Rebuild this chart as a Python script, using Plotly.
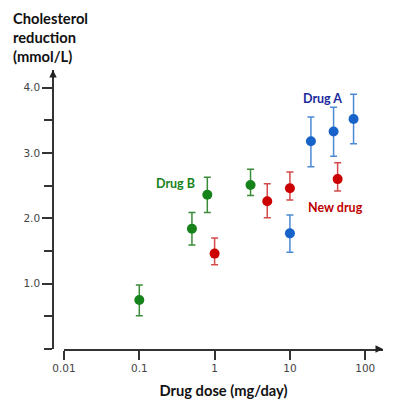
import plotly.graph_objects as go

# Drug B (green)
b_dose = [0.1, 0.5, 0.8, 3]
b_mean = [0.75, 1.84, 2.36, 2.51]
b_up = [0.23, 0.25, 0.27, 0.24]
b_down = [0.24, 0.25, 0.27, 0.16]

# New drug (red)
n_dose = [1, 5, 10, 43]
n_mean = [1.46, 2.26, 2.46, 2.60]
n_up = [0.24, 0.27, 0.25, 0.25]
n_down = [0.17, 0.25, 0.18, 0.18]

# Drug A (blue)
a_dose = [10, 19, 38, 70]
a_mean = [1.77, 3.18, 3.33, 3.52]
a_up = [0.28, 0.37, 0.37, 0.38]
a_down = [0.29, 0.39, 0.38, 0.38]

x_ticks = [0.01, 0.1, 1, 10, 100]
x_ticklabels = ["0.01", "0.1", "1", "10", "100"]
y_ticks = [1, 2, 3, 4]
y_minor = [0, 0.5, 1.5, 2.5, 3.5]

title_font = "Lato"

fig = go.Figure()

def add_series(dose, mean, up, down, mcol, ecol):
    fig.add_trace(go.Scatter(
        x=dose, y=mean, mode="markers",
        marker=dict(size=10, color=mcol),
        error_y=dict(type="data", symmetric=False, array=up, arrayminus=down,
                     color=ecol, thickness=1.5, width=3.5),
        showlegend=False, hoverinfo="skip", cliponaxis=False,
    ))

add_series(b_dose, b_mean, b_up, b_down, "#16821a", "#3a8c3a")
add_series(n_dose, n_mean, n_up, n_down, "#cc0000", "#d44a4a")
add_series(a_dose, a_mean, a_up, a_down, "#1763c9", "#4d8ad6")

W, H = 400, 411
ml, mr, mt, mb = 53, 17, 70, 62

fig.update_layout(
    width=W, height=H,
    margin=dict(l=ml, r=mr, t=mt, b=mb, pad=0),
    paper_bgcolor="white", plot_bgcolor="white",
    xaxis=dict(
        type="log", range=[-2, 2.236], domain=[11 / 330, 1],
        showgrid=False, zeroline=False,
        showline=True, linecolor="#333", linewidth=1.5,
        tickvals=x_ticks, ticktext=x_ticklabels,
        ticks="outside", ticklen=9, tickwidth=1.5, tickcolor="#333",
        tickfont=dict(family="DejaVu Sans", size=10.5, color="#444"),
        title=dict(text="<b>Drug dose (mg/day)</b>", font=dict(family=title_font, size=14.7, color="#111"),
                   standoff=12),
    ),
    yaxis=dict(
        range=[0, 4.27], anchor="free", position=0,
        showgrid=False, zeroline=False,
        showline=True, linecolor="#333", linewidth=1.5,
        tickvals=y_ticks, tickformat=".1f",
        ticks="outside", ticklen=10, tickwidth=1.5, tickcolor="#333",
        tickfont=dict(family="DejaVu Sans", size=10.5, color="#444"),
        minor=dict(tickvals=y_minor, ticks="outside", ticklen=8, tickwidth=1.5, tickcolor="#333"),
    ),
)

# axis titles / labels
fig.add_annotation(xref="paper", yref="paper", x=-(ml - 11) / (W - ml - mr), y=1 + (mt - 7) / (H - mt - mb),
                   xanchor="left", yanchor="top", align="left", showarrow=False,
                   text="<b>Cholesterol<br>reduction<br>(mmol/L)</b>",
                   font=dict(family=title_font, size=14.7, color="#111"))

fig.add_annotation(x=-0.513, y=2.54, xref="x", yref="y", showarrow=False, xanchor="center",
                   text="<b>Drug B</b>", font=dict(family=title_font, size=12.5, color="#16821a"))
fig.add_annotation(x=1.433, y=3.84, xref="x", yref="y", showarrow=False, xanchor="center",
                   text="<b>Drug A</b>", font=dict(family=title_font, size=12.5, color="#1a2a9c"))
fig.add_annotation(x=1.606, y=2.17, xref="x", yref="y", showarrow=False, xanchor="center",
                   text="<b>New drug</b>", font=dict(family=title_font, size=12.5, color="#c00000"))

# axis arrowheads
fig.add_annotation(xref="paper", yref="paper", x=0, y=1, ax=0, ay=8,
                   showarrow=True, arrowhead=2, arrowsize=1, arrowwidth=1.5, arrowcolor="#222", text="")
fig.add_annotation(xref="paper", yref="paper", x=1, y=0, ax=-8, ay=0,
                   showarrow=True, arrowhead=2, arrowsize=1, arrowwidth=1.5, arrowcolor="#222", text="")

fig.write_html("out.html", config={"displayModeBar": False},
               post_script="document.body.style.margin='0';")
